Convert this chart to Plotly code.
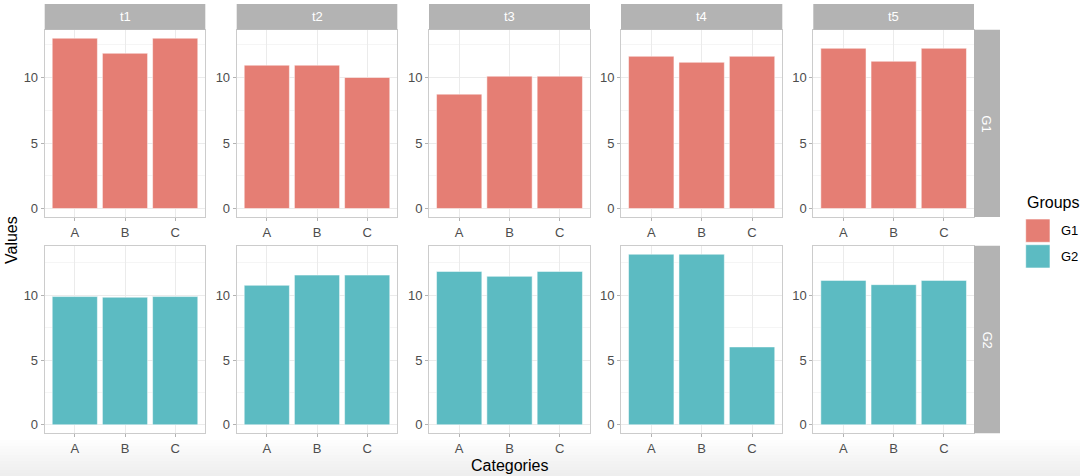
import plotly.graph_objects as go

categories = ["A", "B", "C"]
times = ["t1", "t2", "t3", "t4", "t5"]
groups = ["G1", "G2"]
g1_values = {
    "t1": [13.0, 11.85, 13.0],
    "t2": [10.94, 10.94, 10.0],
    "t3": [8.73, 10.1, 10.1],
    "t4": [11.62, 11.16, 11.62],
    "t5": [12.23, 11.24, 12.23],
}
g2_values = {
    "t1": [9.9, 9.85, 9.9],
    "t2": [10.77, 11.56, 11.56],
    "t3": [11.84, 11.46, 11.84],
    "t4": [13.17, 13.17, 6.01],
    "t5": [11.15, 10.82, 11.15],
}
colors = {"G1": "#E57E74", "G2": "#5CBBC2"}

W, H = 1080, 476


def fx(x):
    return x / W


def fy(y):
    return 1 - y / H


col_px = [(44.7, 205.3), (236.7, 397.3), (429.0, 590.0), (621.0, 782.3), (813.3, 974.0)]
row_px = [(29.7, 217.0), (245.7, 433.3)]
strip_top = 4.0
strip_right = 1000.0

FONT = "Liberation Sans, Arial, sans-serif"
fig = go.Figure()
shapes = []
annotations = []

# bottom gradient (screenshot shadow)
for i in range(12):
    y0 = 440 + i * 3
    g = int(255 - (i + 1) * 1.4)
    shapes.append(dict(type="rect", xref="paper", yref="paper", layer="below",
                       x0=0, x1=1, y0=max(0, fy(y0 + 3)), y1=fy(y0),
                       fillcolor=f"rgb({g},{g},{g})", line=dict(width=0)))

data_by_group = {"G1": g1_values, "G2": g2_values}
for r, grp in enumerate(groups):
    vals_all = [v for t in times for v in data_by_group[grp][t]]
    vmax = max(vals_all)
    yr = [-0.05 * vmax, vmax * 1.05]
    for c, t in enumerate(times):
        idx = r * 5 + c + 1
        xa = "x" if idx == 1 else f"x{idx}"
        ya = "y" if idx == 1 else f"y{idx}"
        fig.add_trace(go.Bar(
            x=categories, y=data_by_group[grp][t], xaxis=xa, yaxis=ya,
            marker=dict(color=colors[grp], line=dict(color="rgba(255,255,255,0.5)", width=1)),
            width=0.9, showlegend=False, name=grp,
        ))
        x0, x1 = col_px[c]
        y0, y1 = row_px[r]
        common = dict(showline=True, linecolor="#CCCCCC", linewidth=1, mirror=True,
                      gridcolor="#EBEBEB", gridwidth=1, ticks="outside", ticklen=3,
                      tickcolor="#B3B3B3", tickfont=dict(family=FONT, size=13, color="#4D4D4D"),
                      zeroline=False, fixedrange=True)
        fig.layout[("xaxis" if idx == 1 else f"xaxis{idx}")] = dict(
            domain=[fx(x0), fx(x1)], anchor=ya, type="category",
            categoryorder="array", categoryarray=categories,
            range=[-0.6, 2.6], showgrid=True, **common)
        fig.layout[("yaxis" if idx == 1 else f"yaxis{idx}")] = dict(
            domain=[fy(y1), fy(y0)], anchor=xa, range=yr,
            tickvals=[0, 5, 10], showgrid=True,
            minor=dict(tickvals=[2.5, 7.5, 12.5], showgrid=True, gridcolor="#F5F5F5", ticks=""),
            **common)


def label(x, y, text, size=13, color="black", xanchor="center", angle=0):
    annotations.append(dict(xref="paper", yref="paper", x=fx(x), y=fy(y), text=text,
                            showarrow=False, xanchor=xanchor, yanchor="middle", textangle=angle,
                            font=dict(family=FONT, size=size, color=color)))


# top strips
for c, t in enumerate(times):
    x0, x1 = col_px[c]
    shapes.append(dict(type="rect", xref="paper", yref="paper", x0=fx(x0), x1=fx(x1),
                       y0=fy(row_px[0][0]), y1=fy(strip_top),
                       fillcolor="#B3B3B3", line=dict(width=0)))
    label((x0 + x1) / 2, (strip_top + row_px[0][0]) / 2, t, color="white")
# right strips
for r, grp in enumerate(groups):
    y0, y1 = row_px[r]
    shapes.append(dict(type="rect", xref="paper", yref="paper", x0=fx(col_px[-1][1]),
                       x1=fx(strip_right), y0=fy(y1), y1=fy(y0),
                       fillcolor="#B3B3B3", line=dict(width=0)))
    label((col_px[-1][1] + strip_right) / 2, (y0 + y1) / 2, grp, color="white", angle=90)

# axis titles
label((col_px[0][0] + col_px[-1][1]) / 2, 465, "Categories", size=16)
label(11, 240, "Values", size=16, angle=-90)

# legend (manual)
label(1025, 202, "Groups", size=16, xanchor="left")
key_y = [(219.0, 242.3), (244.7, 268.0)]
for grp, (ky0, ky1) in zip(groups, key_y):
    shapes.append(dict(type="rect", xref="paper", yref="paper", x0=fx(1025.7), x1=fx(1050),
                       y0=fy(ky1), y1=fy(ky0), fillcolor=colors[grp],
                       line=dict(color="rgba(255,255,255,0.6)", width=1)))
    label(1059, (ky0 + ky1) / 2, grp, size=13, xanchor="left")

fig.update_layout(width=W, height=H, margin=dict(l=0, r=0, t=0, b=0),
                  paper_bgcolor="white", plot_bgcolor="white", bargap=0.1,
                  shapes=shapes, annotations=annotations, showlegend=False,
                  font=dict(family=FONT))
fig.write_html("out.html", config={"displayModeBar": False},
               post_script="document.body.style.margin='0';document.body.style.overflow='hidden';")
